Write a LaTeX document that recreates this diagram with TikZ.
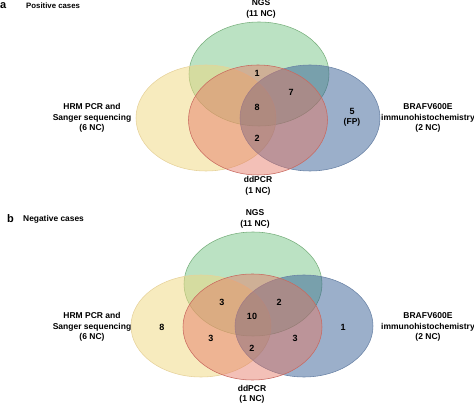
\documentclass[tikz,border=0pt]{standalone}
\usepackage{fontspec}
\setmainfont{Liberation Sans}
\definecolor{ngsF}{RGB}{125,200,140}
\definecolor{ngsD}{RGB}{120,175,125}
\definecolor{hrmF}{RGB}{240,215,125}
\definecolor{hrmD}{RGB}{230,210,155}
\definecolor{ihcF}{RGB}{55,95,150}
\definecolor{ihcD}{RGB}{105,130,165}
\definecolor{ddF}{RGB}{228,115,95}
\definecolor{ddD}{RGB}{200,105,95}
\tikzset{
  setngs/.style={fill=ngsF,fill opacity=0.52,draw=ngsD,line width=0.55pt},
  sethrm/.style={fill=hrmF,fill opacity=0.5,draw=hrmD,line width=0.55pt},
  setihc/.style={fill=ihcF,fill opacity=0.5,draw=ihcD,line width=0.55pt},
  setdd/.style={fill=ddF,fill opacity=0.45,draw=ddD,line width=0.55pt},
  lab/.style={align=center,inner sep=0pt,font=\bfseries\fontsize{8.5}{10.5}\selectfont},
  num/.style={inner sep=0pt,font=\bfseries\fontsize{9}{10.5}\selectfont},
  panel/.style={anchor=west,inner sep=0pt,font=\bfseries\fontsize{11}{12}\selectfont},
}
\begin{document}
\begin{tikzpicture}[x=1pt,y=-1pt]
\useasboundingbox (0,0) rectangle (474,403);
% ---------------- panel a ----------------
\node[panel] (pa) at (0,5.5) {a};
\node[anchor=west,inner sep=0pt,font=\bfseries\fontsize{7.8}{9}\selectfont] (pat) at (26,5.5) {Positive cases};
\draw[setngs] (259,74) ellipse [x radius=70pt, y radius=52pt];
\draw[sethrm] (206,118) ellipse [x radius=70pt, y radius=53pt];
\draw[setihc] (310,118) ellipse [x radius=70pt, y radius=53pt];
\draw[setdd] (258,120) ellipse [x radius=69.5pt, y radius=55pt];
\node[lab] (angs) at (261,9) {NGS\\(11 NC)};
\node[lab] (ahrm) at (92,118) {HRM PCR and\\Sanger sequencing\\(6 NC)};
\node[lab] (aihc) at (428,118) {BRAFV600E\\immunohistochemistry\\(2 NC)};
\node[lab] (add) at (258,186) {ddPCR\\(1 NC)};
\node[num] (a1) at (257,73) {1};
\node[num] (a7) at (291,92) {7};
\node[num] (a8) at (257,107) {8};
\node[num] (a2) at (257,138) {2};
\node[lab] (a5) at (352,117.5) {\fontsize{9}{10.5}\selectfont 5\\(FP)};
% ---------------- panel b ----------------
\node[panel] (pb) at (7,219) {b};
\node[anchor=west,inner sep=0pt,font=\bfseries\fontsize{8.4}{9}\selectfont] (pbt) at (23,219) {Negative cases};
\draw[setngs] (253,284) ellipse [x radius=69pt, y radius=52pt];
\draw[sethrm] (201,326) ellipse [x radius=70pt, y radius=51pt];
\draw[setihc] (304,326) ellipse [x radius=69pt, y radius=51pt];
\draw[setdd] (252.5,327) ellipse [x radius=69.5pt, y radius=53pt];
\node[lab] (bngs) at (255,219) {NGS\\(11 NC)};
\node[lab] (bhrm) at (92,327) {HRM PCR and\\Sanger sequencing\\(6 NC)};
\node[lab] (bihc) at (428,327) {BRAFV600E\\immunohistochemistry\\(2 NC)};
\node[lab] (bdd) at (252,394.5) {ddPCR\\(1 NC)};
\node[num] (b3a) at (222,302) {3};
\node[num] (b2a) at (279,302) {2};
\node[num] (b10) at (252,316) {10};
\node[num] (b8) at (162,327) {8};
\node[num] (b1) at (343,327) {1};
\node[num] (b3b) at (211,338) {3};
\node[num] (b3c) at (295,338) {3};
\node[num] (b2b) at (252,348) {2};
\end{tikzpicture}
\end{document}
